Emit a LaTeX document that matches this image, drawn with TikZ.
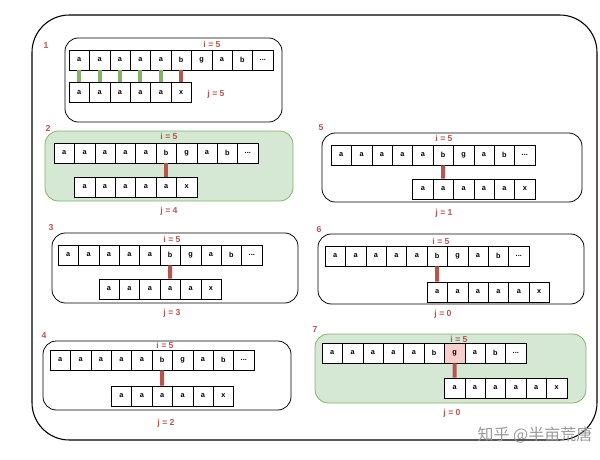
\documentclass[tikz,border=0pt]{standalone}
\usepackage{fontspec}
\setsansfont{Liberation Sans}
\newfontfamily\cjk{Noto Sans CJK SC}
\definecolor{rd}{HTML}{B85450}
\definecolor{gn}{HTML}{82B366}
\definecolor{gfill}{HTML}{D5E8D4}
\definecolor{pk}{HTML}{F8CECC}
\newcommand\dts{...}
\newcommand\strrow[4]{\foreach \c [count=\k from 0] in {#4}{\node[cell] (#1\k) at ({#2+(\k+0.5)*20.4},#3) {\c};}}
\begin{document}
\begin{tikzpicture}[x=0.75pt,y=-0.75pt,
 cell/.style={draw,fill=white,minimum width=15.3pt,minimum height=15pt,inner sep=0pt,font=\sffamily\bfseries\fontsize{5.5}{6}\selectfont},
 panel/.style={draw,rounded corners=10pt,line width=0.6pt},
 gpanel/.style={panel,fill=gfill,draw=gn},
 lbl/.style={text=rd,font=\sffamily\bfseries\fontsize{6.5}{7}\selectfont},
 rbar/.style={draw=rd,line width=3pt},
 gbar/.style={draw=gn,line width=3pt}]
\useasboundingbox (0,0) rectangle (600,460);
\draw[line width=0.8pt,rounded corners=28pt] (32,15) rectangle (597,440);
% panel 1
\draw[panel] (65,38) rectangle (282,122);
\node[lbl] (n1) at (46,46) {1};
\strrow{a}{69}{60}{a,a,a,a,a,b,g,a,b,\dts}
\strrow{A}{69}{92.5}{a,a,a,a,a,x}
\node[lbl] (i1) at (212,44) {i = 5};
\node[lbl] (j1) at (216,94) {j = 5};
\foreach \k in {0,1,2,3,4}{\draw[gbar] (a\k.south) -- (A\k.north);}
\draw[rbar] (a5.south) -- (A5.north);
% panel 2
\draw[gpanel] (45,131) rectangle (293,201);
\node[lbl] (n2) at (48,128) {2};
\strrow{b}{54}{153}{a,a,a,a,a,b,g,a,b,\dts}
\strrow{B}{74.4}{187}{a,a,a,a,a,x}
\node[lbl] (i2) at (169,136) {i = 5};
\node[lbl] (j2) at (169,211) {j = 4};
\draw[rbar] (b5.south) -- (B4.north);
% panel 3
\draw[panel] (52,233) rectangle (298,303);
\node[lbl] (n3) at (51,228) {3};
\strrow{c}{58}{255}{a,a,a,a,a,b,g,a,b,\dts}
\strrow{C}{98.8}{289}{a,a,a,a,a,x}
\node[lbl] (i3) at (172,239) {i = 5};
\node[lbl] (j3) at (172,313) {j = 3};
\draw[rbar] (c5.south) -- (C3.north);
% panel 4
\draw[panel] (43,341) rectangle (291,410);
\node[lbl] (n4) at (44,336) {4};
\strrow{d}{50}{360}{a,a,a,a,a,b,g,a,b,\dts}
\strrow{D}{111.2}{396}{a,a,a,a,a,x}
\node[lbl] (i4) at (165,345) {i = 5};
\node[lbl] (j4) at (166,423) {j = 2};
\draw[rbar] (d5.south) -- (D2.north);
% panel 5
\draw[panel] (322,133) rectangle (582,202);
\node[lbl] (n5) at (321,128) {5};
\strrow{e}{331}{155}{a,a,a,a,a,b,g,a,b,\dts}
\strrow{E}{412.6}{189}{a,a,a,a,a,x}
\node[lbl] (i5) at (444,138) {i = 5};
\node[lbl] (j5) at (444,213) {j = 1};
\draw[rbar] (e5.south) -- (E1.north);
% panel 6
\draw[panel] (318,234) rectangle (584,304);
\node[lbl] (n6) at (319,230) {6};
\strrow{f}{325}{256}{a,a,a,a,a,b,g,a,b,\dts}
\strrow{F}{427}{292}{a,a,a,a,a,x}
\node[lbl] (i6) at (441,241) {i = 5};
\node[lbl] (j6) at (443,314) {j = 0};
\draw[rbar] (f5.south) -- (F0.north);
% panel 7
\draw[gpanel] (315,334) rectangle (586,403);
\node[lbl] (n7) at (315,330) {7};
\strrow{g}{322}{353}{a,a,a,a,a,b,g,a,b,\dts}
\node[cell,fill=pk,draw=black] (gh) at (g6) {g};
\strrow{G}{444.4}{388}{a,a,a,a,a,x}
\node[lbl] (i7) at (459,339) {i = 5};
\node[lbl] (j7) at (452,413) {j = 0};
\draw[rbar] (gh.south) -- (G0.north);
\node[text=black!40,font=\cjk\fontsize{12}{14}\selectfont] (wm) at (535,435) {知乎 @半亩荒唐};
\end{tikzpicture}
\end{document}
